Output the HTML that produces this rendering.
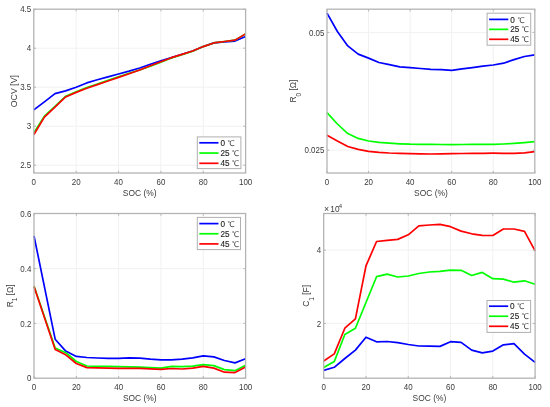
<!DOCTYPE html>
<html><head><meta charset="utf-8"><title>Figure</title>
<style>html,body{margin:0;padding:0;background:#fff;overflow:hidden}svg{display:block}</style>
</head><body>
<svg width="550" height="407" viewBox="0 0 550 407" font-family="'Liberation Sans', Arial, Helvetica, sans-serif" font-size="8.3" fill="#3a3a3a">
<rect width="550" height="407" fill="#fff"/>
<path d="M76.16 9.2V173M118.52 9.2V173M160.88 9.2V173M203.24 9.2V173M33.8 165.2H245.6M33.8 126.2H245.6M33.8 87.2H245.6M33.8 48.2H245.6" stroke="#f1f1f1" stroke-width="1" fill="none"/>
<polyline points="33.8,109.91 44.39,101.8 54.98,93.68 65.57,90.88 76.16,87.21 86.75,82.92 97.34,79.72 107.93,76.84 118.52,74.03 129.11,71.14 139.7,67.94 150.29,64.28 160.88,60.92 171.47,57.57 182.06,54.29 192.65,50.94 203.24,46.49 213.83,42.83 224.42,41.89 235.01,41.03 245.6,36.51" fill="none" stroke="#0000ff" stroke-width="1.7" stroke-linejoin="round"/>
<polyline points="33.8,132.86 44.39,116.17 54.98,106.42 65.57,96.36 76.16,91.76 86.75,87.62 97.34,83.96 107.93,80.37 118.52,76.78 129.11,73.27 139.7,69.99 150.29,66.25 160.88,62.19 171.47,57.98 182.06,54.71 192.65,51.27 203.24,46.59 213.83,42.93 224.42,41.52 235.01,40.12 245.6,33.88" fill="none" stroke="#00ff00" stroke-width="1.7" stroke-linejoin="round"/>
<polyline points="33.8,134.81 44.39,117.11 54.98,107.2 65.57,96.98 76.16,92.38 86.75,88.25 97.34,84.58 107.93,80.99 118.52,77.4 129.11,73.74 139.7,69.99 150.29,65.78 160.88,61.73 171.47,57.67 182.06,54.39 192.65,51.04 203.24,46.59 213.83,42.93 224.42,41.52 235.01,40.12 245.6,33.88" fill="none" stroke="#ff0000" stroke-width="1.7" stroke-linejoin="round"/>
<path d="M33.8 173v-2.2M33.8 9.2v2.2M76.16 173v-2.2M76.16 9.2v2.2M118.52 173v-2.2M118.52 9.2v2.2M160.88 173v-2.2M160.88 9.2v2.2M203.24 173v-2.2M203.24 9.2v2.2M245.6 173v-2.2M245.6 9.2v2.2M33.8 165.2h2.2M245.6 165.2h-2.2M33.8 126.2h2.2M245.6 126.2h-2.2M33.8 87.2h2.2M245.6 87.2h-2.2M33.8 48.2h2.2M245.6 48.2h-2.2M33.8 9.2h2.2M245.6 9.2h-2.2" stroke="#b4b4b4" stroke-width="1" fill="none"/>
<rect x="33.8" y="9.2" width="211.8" height="163.8" fill="none" stroke="#b4b4b4" stroke-width="1.3"/>
<text transform="translate(33.8 184.8) scale(0.96 1)" text-anchor="middle">0</text>
<text transform="translate(76.16 184.8) scale(0.96 1)" text-anchor="middle">20</text>
<text transform="translate(118.52 184.8) scale(0.96 1)" text-anchor="middle">40</text>
<text transform="translate(160.88 184.8) scale(0.96 1)" text-anchor="middle">60</text>
<text transform="translate(203.24 184.8) scale(0.96 1)" text-anchor="middle">80</text>
<text transform="translate(245.6 184.8) scale(0.96 1)" text-anchor="middle">100</text>
<text transform="translate(31.2 168.4) scale(0.96 1)" text-anchor="end">2.5</text>
<text transform="translate(31.2 129.4) scale(0.96 1)" text-anchor="end">3</text>
<text transform="translate(31.2 90.4) scale(0.96 1)" text-anchor="end">3.5</text>
<text transform="translate(31.2 51.4) scale(0.96 1)" text-anchor="end">4</text>
<text transform="translate(31.2 12.4) scale(0.96 1)" text-anchor="end">4.5</text>
<text transform="translate(139.7 195.5) scale(0.96 1)" text-anchor="middle" font-size="8.8">SOC (%)</text>
<path d="M368.56 9.2V173M410.12 9.2V173M451.68 9.2V173M493.24 9.2V173M327 32.4H534.8M327 150.2H534.8" stroke="#f1f1f1" stroke-width="1" fill="none"/>
<polyline points="327,13.2 337.39,31.5 347.78,45.9 358.17,54.1 368.56,58.1 378.95,62.5 389.34,64.7 399.73,66.9 410.12,67.6 420.51,68.5 430.9,69.3 441.29,69.6 451.68,70.3 462.07,68.9 472.46,67.6 482.85,66.1 493.24,65 503.63,63.2 514.02,59.6 524.41,56.5 534.8,54.8" fill="none" stroke="#0000ff" stroke-width="1.7" stroke-linejoin="round"/>
<polyline points="327,112.6 337.39,124 347.78,133.6 358.17,138.4 368.56,141 378.95,142.4 389.34,143.2 399.73,143.8 410.12,144.2 420.51,144.3 430.9,144.4 441.29,144.5 451.68,144.6 462.07,144.5 472.46,144.4 482.85,144.4 493.24,144.4 503.63,144 514.02,143.4 524.41,142.6 534.8,141.6" fill="none" stroke="#00ff00" stroke-width="1.7" stroke-linejoin="round"/>
<polyline points="327,135.3 337.39,141.1 347.78,146.5 358.17,149.4 368.56,151.4 378.95,152.4 389.34,153 399.73,153.3 410.12,153.6 420.51,153.8 430.9,154 441.29,153.8 451.68,153.6 462.07,153.5 472.46,153.4 482.85,153.3 493.24,153.2 503.63,153.3 514.02,153.4 524.41,152.8 534.8,151.6" fill="none" stroke="#ff0000" stroke-width="1.7" stroke-linejoin="round"/>
<path d="M327 173v-2.2M327 9.2v2.2M368.56 173v-2.2M368.56 9.2v2.2M410.12 173v-2.2M410.12 9.2v2.2M451.68 173v-2.2M451.68 9.2v2.2M493.24 173v-2.2M493.24 9.2v2.2M534.8 173v-2.2M534.8 9.2v2.2M327 32.4h2.2M534.8 32.4h-2.2M327 150.2h2.2M534.8 150.2h-2.2" stroke="#b4b4b4" stroke-width="1" fill="none"/>
<rect x="327" y="9.2" width="207.8" height="163.8" fill="none" stroke="#b4b4b4" stroke-width="1.3"/>
<text transform="translate(327 184.8) scale(0.96 1)" text-anchor="middle">0</text>
<text transform="translate(368.56 184.8) scale(0.96 1)" text-anchor="middle">20</text>
<text transform="translate(410.12 184.8) scale(0.96 1)" text-anchor="middle">40</text>
<text transform="translate(451.68 184.8) scale(0.96 1)" text-anchor="middle">60</text>
<text transform="translate(493.24 184.8) scale(0.96 1)" text-anchor="middle">80</text>
<text transform="translate(534.8 184.8) scale(0.96 1)" text-anchor="middle">100</text>
<text transform="translate(324.4 35.6) scale(0.96 1)" text-anchor="end">0.05</text>
<text transform="translate(324.4 153.4) scale(0.96 1)" text-anchor="end">0.025</text>
<text transform="translate(430.9 195.5) scale(0.96 1)" text-anchor="middle" font-size="8.8">SOC (%)</text>
<path d="M76.32 213.5V378.2M118.64 213.5V378.2M160.96 213.5V378.2M203.28 213.5V378.2M34 323.4H245.6M34 268.6H245.6" stroke="#f1f1f1" stroke-width="1" fill="none"/>
<polyline points="34,235.9 55.16,339.2 65.74,351.1 76.32,356.4 86.9,357.5 97.48,358 108.06,358.3 118.64,358.4 129.22,357.9 139.8,358.1 150.38,359.1 160.96,359.8 171.54,359.8 182.12,359.1 192.7,357.9 203.28,355.9 213.86,356.9 224.44,360.5 235.02,362.9 245.6,358.8" fill="none" stroke="#0000ff" stroke-width="1.7" stroke-linejoin="round"/>
<polyline points="34,286 55.16,348 65.74,352.7 76.32,361.5 86.9,366 97.48,366.3 108.06,366.4 118.64,366.7 129.22,366.9 139.8,367.1 150.38,367.6 160.96,368.1 171.54,366.4 182.12,366.7 192.7,366.1 203.28,364.6 213.86,365.6 224.44,369.6 235.02,370.7 245.6,365.3" fill="none" stroke="#00ff00" stroke-width="1.7" stroke-linejoin="round"/>
<polyline points="34,286.6 55.16,349.6 65.74,354.8 76.32,363.5 86.9,367.6 97.48,367.9 108.06,368.1 118.64,368.3 129.22,368.3 139.8,368.3 150.38,368.8 160.96,369.3 171.54,368.5 182.12,369 192.7,368.1 203.28,366.4 213.86,368.1 224.44,372.2 235.02,372.6 245.6,367.1" fill="none" stroke="#ff0000" stroke-width="1.7" stroke-linejoin="round"/>
<path d="M34 378.2v-2.2M34 213.5v2.2M76.32 378.2v-2.2M76.32 213.5v2.2M118.64 378.2v-2.2M118.64 213.5v2.2M160.96 378.2v-2.2M160.96 213.5v2.2M203.28 378.2v-2.2M203.28 213.5v2.2M245.6 378.2v-2.2M245.6 213.5v2.2M34 378.2h2.2M245.6 378.2h-2.2M34 323.4h2.2M245.6 323.4h-2.2M34 268.6h2.2M245.6 268.6h-2.2M34 213.5h2.2M245.6 213.5h-2.2" stroke="#b4b4b4" stroke-width="1" fill="none"/>
<rect x="34" y="213.5" width="211.6" height="164.7" fill="none" stroke="#b4b4b4" stroke-width="1.3"/>
<text transform="translate(34 390) scale(0.96 1)" text-anchor="middle">0</text>
<text transform="translate(76.32 390) scale(0.96 1)" text-anchor="middle">20</text>
<text transform="translate(118.64 390) scale(0.96 1)" text-anchor="middle">40</text>
<text transform="translate(160.96 390) scale(0.96 1)" text-anchor="middle">60</text>
<text transform="translate(203.28 390) scale(0.96 1)" text-anchor="middle">80</text>
<text transform="translate(245.6 390) scale(0.96 1)" text-anchor="middle">100</text>
<text transform="translate(31.4 381.4) scale(0.96 1)" text-anchor="end">0</text>
<text transform="translate(31.4 326.6) scale(0.96 1)" text-anchor="end">0.2</text>
<text transform="translate(31.4 271.8) scale(0.96 1)" text-anchor="end">0.4</text>
<text transform="translate(31.4 216.7) scale(0.96 1)" text-anchor="end">0.6</text>
<text transform="translate(139.8 400.7) scale(0.96 1)" text-anchor="middle" font-size="8.8">SOC (%)</text>
<path d="M365.98 213.5V378.2M408.26 213.5V378.2M450.54 213.5V378.2M492.82 213.5V378.2M323.7 323.4H535.1M323.7 250.1H535.1" stroke="#f1f1f1" stroke-width="1" fill="none"/>
<polyline points="323.7,370.4 334.27,367.3 344.84,358.5 355.41,350.1 365.98,337.2 376.55,341.8 387.12,341.5 397.69,342.7 408.26,344.5 418.83,346 429.4,346.2 439.97,346.4 450.54,341.7 461.11,342.4 471.68,350.1 482.25,352.9 492.82,351.1 503.39,344.8 513.96,343.6 524.53,354.1 535.1,362.3" fill="none" stroke="#0000ff" stroke-width="1.7" stroke-linejoin="round"/>
<polyline points="323.7,367.5 334.27,361.6 344.84,334.5 355.41,328.2 365.98,302.5 376.55,276.7 387.12,274.1 397.69,277 408.26,276 418.83,273.5 429.4,272 439.97,271.4 450.54,270.1 461.11,270.3 471.68,275.5 482.25,272.4 492.82,278.7 503.39,279.1 513.96,282.2 524.53,280.8 535.1,284.3" fill="none" stroke="#00ff00" stroke-width="1.7" stroke-linejoin="round"/>
<polyline points="323.7,361 334.27,353.9 344.84,328.2 355.41,318.8 365.98,265.9 376.55,241.5 387.12,240.3 397.69,239.4 408.26,234.8 418.83,225.9 429.4,225 439.97,224.4 450.54,226.7 461.11,231.1 471.68,233.8 482.25,235.3 492.82,235.5 503.39,229 513.96,229 524.53,231.3 535.1,250.9" fill="none" stroke="#ff0000" stroke-width="1.7" stroke-linejoin="round"/>
<path d="M323.7 378.2v-2.2M323.7 213.5v2.2M365.98 378.2v-2.2M365.98 213.5v2.2M408.26 378.2v-2.2M408.26 213.5v2.2M450.54 378.2v-2.2M450.54 213.5v2.2M492.82 378.2v-2.2M492.82 213.5v2.2M535.1 378.2v-2.2M535.1 213.5v2.2M323.7 323.4h2.2M535.1 323.4h-2.2M323.7 250.1h2.2M535.1 250.1h-2.2" stroke="#b4b4b4" stroke-width="1" fill="none"/>
<rect x="323.7" y="213.5" width="211.4" height="164.7" fill="none" stroke="#b4b4b4" stroke-width="1.3"/>
<text transform="translate(323.7 390) scale(0.96 1)" text-anchor="middle">0</text>
<text transform="translate(365.98 390) scale(0.96 1)" text-anchor="middle">20</text>
<text transform="translate(408.26 390) scale(0.96 1)" text-anchor="middle">40</text>
<text transform="translate(450.54 390) scale(0.96 1)" text-anchor="middle">60</text>
<text transform="translate(492.82 390) scale(0.96 1)" text-anchor="middle">80</text>
<text transform="translate(535.1 390) scale(0.96 1)" text-anchor="middle">100</text>
<text transform="translate(321.1 326.6) scale(0.96 1)" text-anchor="end">2</text>
<text transform="translate(321.1 253.3) scale(0.96 1)" text-anchor="end">4</text>
<text transform="translate(429.4 400.7) scale(0.96 1)" text-anchor="middle" font-size="8.8">SOC (%)</text>
<text transform="translate(17.2 91.1) rotate(-90)" text-anchor="middle" font-size="8.8">OCV [V]</text>
<text transform="translate(296.3 91.1) rotate(-90)" text-anchor="middle" font-size="8.4">R<tspan font-size="6.5" dy="4.3">0</tspan><tspan dy="-4.3"> [Ω]</tspan></text>
<text transform="translate(12.9 295.85) rotate(-90)" text-anchor="middle" font-size="8.4">R<tspan font-size="6.5" dy="4.3">1</tspan><tspan dy="-4.3"> [Ω]</tspan></text>
<text transform="translate(309.3 295.85) rotate(-90)" text-anchor="middle" font-size="8.4">C<tspan font-size="6.5" dy="4.3">1</tspan><tspan dy="-4.3"> [F]</tspan></text>
<text x="324.1" y="212.1" font-size="8.8">×</text>
<text x="330.3" y="211.6">10</text>
<text x="338.8" y="207.9" font-size="6">4</text>
<rect x="197.3" y="136.9" width="43.6" height="31.7" fill="#fff" stroke="#b0b0b0" stroke-width="1"/>
<path d="M199.3 142.8h19.2" stroke="#0000ff" stroke-width="1.7"/>
<text x="220.4" y="145.9" font-size="8.2" fill="#1e1e1e" stroke="#1e1e1e" stroke-width="0.12">0</text>
<text x="227.6" y="145.9" font-family="'WenQuanYi Zen Hei', 'Noto Sans CJK SC', sans-serif" font-size="7.8" fill="#3a3a3a">℃</text>
<path d="M199.3 153.05h19.2" stroke="#00ff00" stroke-width="1.7"/>
<text x="220.4" y="156.15" font-size="8.2" fill="#1e1e1e" stroke="#1e1e1e" stroke-width="0.12">25</text>
<text x="232" y="156.15" font-family="'WenQuanYi Zen Hei', 'Noto Sans CJK SC', sans-serif" font-size="7.8" fill="#3a3a3a">℃</text>
<path d="M199.3 163.3h19.2" stroke="#ff0000" stroke-width="1.7"/>
<text x="220.4" y="166.4" font-size="8.2" fill="#1e1e1e" stroke="#1e1e1e" stroke-width="0.12">45</text>
<text x="232" y="166.4" font-family="'WenQuanYi Zen Hei', 'Noto Sans CJK SC', sans-serif" font-size="7.8" fill="#3a3a3a">℃</text>
<rect x="487.1" y="13.2" width="43.6" height="32" fill="#fff" stroke="#b0b0b0" stroke-width="1"/>
<path d="M489.1 19.4h19.2" stroke="#0000ff" stroke-width="1.7"/>
<text x="510.2" y="22.5" font-size="8.2" fill="#1e1e1e" stroke="#1e1e1e" stroke-width="0.12">0</text>
<text x="517.4" y="22.5" font-family="'WenQuanYi Zen Hei', 'Noto Sans CJK SC', sans-serif" font-size="7.8" fill="#3a3a3a">℃</text>
<path d="M489.1 29.35h19.2" stroke="#00ff00" stroke-width="1.7"/>
<text x="510.2" y="32.45" font-size="8.2" fill="#1e1e1e" stroke="#1e1e1e" stroke-width="0.12">25</text>
<text x="521.8" y="32.45" font-family="'WenQuanYi Zen Hei', 'Noto Sans CJK SC', sans-serif" font-size="7.8" fill="#3a3a3a">℃</text>
<path d="M489.1 39.3h19.2" stroke="#ff0000" stroke-width="1.7"/>
<text x="510.2" y="42.4" font-size="8.2" fill="#1e1e1e" stroke="#1e1e1e" stroke-width="0.12">45</text>
<text x="521.8" y="42.4" font-family="'WenQuanYi Zen Hei', 'Noto Sans CJK SC', sans-serif" font-size="7.8" fill="#3a3a3a">℃</text>
<rect x="197.3" y="217.4" width="43.2" height="32.2" fill="#fff" stroke="#b0b0b0" stroke-width="1"/>
<path d="M199.3 223.6h19.2" stroke="#0000ff" stroke-width="1.7"/>
<text x="220.4" y="226.7" font-size="8.2" fill="#1e1e1e" stroke="#1e1e1e" stroke-width="0.12">0</text>
<text x="227.6" y="226.7" font-family="'WenQuanYi Zen Hei', 'Noto Sans CJK SC', sans-serif" font-size="7.8" fill="#3a3a3a">℃</text>
<path d="M199.3 233.75h19.2" stroke="#00ff00" stroke-width="1.7"/>
<text x="220.4" y="236.85" font-size="8.2" fill="#1e1e1e" stroke="#1e1e1e" stroke-width="0.12">25</text>
<text x="232" y="236.85" font-family="'WenQuanYi Zen Hei', 'Noto Sans CJK SC', sans-serif" font-size="7.8" fill="#3a3a3a">℃</text>
<path d="M199.3 243.9h19.2" stroke="#ff0000" stroke-width="1.7"/>
<text x="220.4" y="247" font-size="8.2" fill="#1e1e1e" stroke="#1e1e1e" stroke-width="0.12">45</text>
<text x="232" y="247" font-family="'WenQuanYi Zen Hei', 'Noto Sans CJK SC', sans-serif" font-size="7.8" fill="#3a3a3a">℃</text>
<rect x="487" y="300.5" width="43.6" height="31.9" fill="#fff" stroke="#b0b0b0" stroke-width="1"/>
<path d="M489 306.2h19.2" stroke="#0000ff" stroke-width="1.7"/>
<text x="510.1" y="309.3" font-size="8.2" fill="#1e1e1e" stroke="#1e1e1e" stroke-width="0.12">0</text>
<text x="517.3" y="309.3" font-family="'WenQuanYi Zen Hei', 'Noto Sans CJK SC', sans-serif" font-size="7.8" fill="#3a3a3a">℃</text>
<path d="M489 316.25h19.2" stroke="#00ff00" stroke-width="1.7"/>
<text x="510.1" y="319.35" font-size="8.2" fill="#1e1e1e" stroke="#1e1e1e" stroke-width="0.12">25</text>
<text x="521.7" y="319.35" font-family="'WenQuanYi Zen Hei', 'Noto Sans CJK SC', sans-serif" font-size="7.8" fill="#3a3a3a">℃</text>
<path d="M489 326.3h19.2" stroke="#ff0000" stroke-width="1.7"/>
<text x="510.1" y="329.4" font-size="8.2" fill="#1e1e1e" stroke="#1e1e1e" stroke-width="0.12">45</text>
<text x="521.7" y="329.4" font-family="'WenQuanYi Zen Hei', 'Noto Sans CJK SC', sans-serif" font-size="7.8" fill="#3a3a3a">℃</text>
</svg>
</body></html>
